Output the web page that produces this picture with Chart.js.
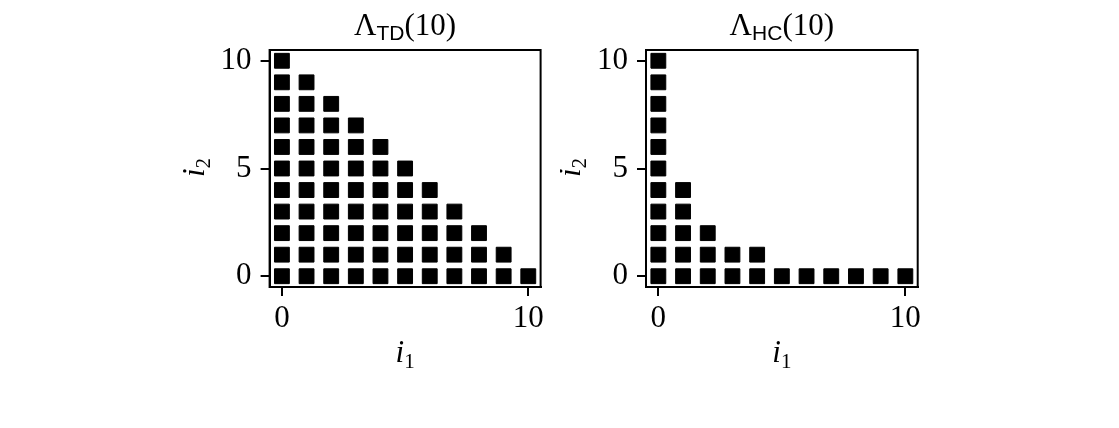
<!DOCTYPE html>
<html>
<head>
<meta charset="utf-8">
<script src="https://cdn.jsdelivr.net/npm/chart.js@4.4.1/dist/chart.umd.min.js"></script>
<style>
  html, body { margin: 0; padding: 0; background: #fff; }
  #wrap { position: relative; width: 1119px; height: 428px; overflow: hidden; background: #fff; }
  canvas { position: absolute; top: 0; }
  #c1 { left: 0; }
  #c2 { left: 560px; }
</style>
</head>
<body>
<div id="wrap">
  <canvas id="c1" width="560" height="428"></canvas>
  <canvas id="c2" width="559" height="428"></canvas>
</div>
<script>
// ---- data ----
const i1Values = [0, 1, 2, 3, 4, 5, 6, 7, 8, 9, 10];
// highest i2 index present in each i1 column
const tdTopI2 = [10, 9, 8, 7, 6, 5, 4, 3, 2, 1, 0];
const hcTopI2 = [10, 4, 2, 1, 1, 0, 0, 0, 0, 0, 0];
const xTicks = [0, 10];
const yTicks = [0, 5, 10];
const tdSub = 'TD';
const hcSub = 'HC';
const titleArg = '(10)';

function toPoints(tops) {
  const pts = [];
  i1Values.forEach((i1, k) => {
    for (let i2 = 0; i2 <= tops[k]; i2++) pts.push({ x: i1, y: i2 });
  });
  return pts;
}

const SERIF = '"Liberation Serif", "DejaVu Serif", serif';
const SANS = '"Liberation Sans", "DejaVu Sans", sans-serif';
const FS = 31;
const SUBFS = 21;

function drawParts(ctx, parts, cx, baseline) {
  let total = 0;
  parts.forEach(p => { ctx.font = p.f; p.w = ctx.measureText(p.t).width; total += p.w; });
  let x = cx - total / 2;
  ctx.textAlign = 'left';
  ctx.textBaseline = 'alphabetic';
  parts.forEach(p => { ctx.font = p.f; ctx.fillText(p.t, x, baseline + (p.dy || 0)); x += p.w; });
}

const decor = {
  id: 'decor',
  afterDraw(chart, args, opts) {
    const { ctx, chartArea: a } = chart;
    ctx.save();
    ctx.strokeStyle = '#000';
    ctx.lineWidth = 2;
    ctx.strokeRect(a.left, a.top, a.right - a.left, a.bottom - a.top);
    ctx.fillStyle = '#000';
    const cx = (a.left + a.right) / 2;
    // title
    drawParts(ctx, [
      { t: 'Λ', f: FS + 'px ' + SERIF },
      { t: opts.sub, f: SUBFS + 'px ' + SANS, dy: 5 },
      { t: titleArg, f: FS + 'px ' + SERIF }
    ], cx, 35);
    // x label
    drawParts(ctx, [
      { t: 'i', f: 'italic ' + FS + 'px ' + SERIF },
      { t: '1', f: SUBFS + 'px ' + SERIF, dy: 6 }
    ], cx, 362);
    // y label (rotated)
    ctx.save();
    ctx.translate(a.left - 66, (a.top + a.bottom) / 2 - 1);
    ctx.rotate(-Math.PI / 2);
    drawParts(ctx, [
      { t: 'i', f: 'italic ' + FS + 'px ' + SERIF },
      { t: '2', f: SUBFS + 'px ' + SERIF, dy: 6 }
    ], 0, 0);
    ctx.restore();
    ctx.restore();
  }
};

function makeChart(id, tops, sub, pad) {
  return new Chart(document.getElementById(id), {
    type: 'scatter',
    data: {
      datasets: [{
        data: toPoints(tops),
        pointStyle: 'rect',
        pointRadius: 10.5,
        pointHoverRadius: 10.5,
        backgroundColor: '#000',
        borderColor: '#000',
        borderWidth: 1
      }]
    },
    plugins: [decor],
    options: {
      responsive: false,
      animation: false,
      events: [],
      layout: { padding: pad },
      plugins: {
        legend: { display: false },
        tooltip: { enabled: false },
        title: { display: false },
        decor: { sub: sub }
      },
      scales: {
        x: {
          type: 'linear',
          min: -0.5,
          max: 10.5,
          afterBuildTicks: s => { s.ticks = xTicks.map(v => ({ value: v })); },
          afterFit: s => { s.height = 60; },
          grid: { drawOnChartArea: false, drawTicks: true, tickLength: 9, color: '#000', lineWidth: 2 },
          border: { display: true, color: '#000', width: 2 },
          ticks: { color: '#000', font: { family: SERIF, size: FS }, padding: 4, maxRotation: 0, autoSkip: false }
        },
        y: {
          type: 'linear',
          min: -0.5,
          max: 10.5,
          afterBuildTicks: s => { s.ticks = yTicks.map(v => ({ value: v })); },
          afterFit: s => { s.width = 60; },
          grid: { drawOnChartArea: false, drawTicks: true, tickLength: 9, color: '#000', lineWidth: 2 },
          border: { display: true, color: '#000', width: 2 },
          ticks: { color: '#000', font: { family: SERIF, size: FS }, padding: 9, autoSkip: false }
        }
      }
    }
  });
}

makeChart('c1', tdTopI2, tdSub, { left: 209.6, right: 19.4, top: 50, bottom: 81 });
makeChart('c2', hcTopI2, hcSub, { left: 26, right: 201.3, top: 50, bottom: 81 });
</script>
</body>
</html>
